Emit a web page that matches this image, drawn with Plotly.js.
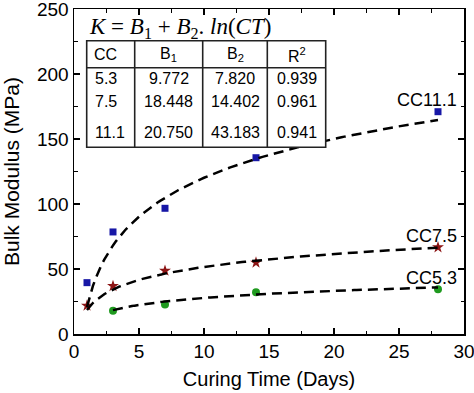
<!DOCTYPE html>
<html>
<head>
<meta charset="utf-8">
<script src="https://cdn.plot.ly/plotly-3.0.1.min.js"></script>
<style>
  html, body { margin: 0; padding: 0; background: #fff; }
  #chart { width: 474px; height: 393px; }
</style>
</head>
<body>
<div id="chart"></div>
<script>
// Measured bulk modulus (MPa) against curing time (days) for three cement contents
const days11 = [1, 3, 7, 14, 28];
const k11 = [39.5, 78.5, 96.7, 135.6, 171.0];
const days75 = [1, 3, 7, 14, 28];
const k75 = [21.8, 36.9, 48.7, 54.9, 66.7];
const days53 = [3, 7, 14, 28];
const k53 = [17.9, 22.6, 32.1, 34.4];

// Logarithmic fit K = B1 + B2 ln(CT) for each cement content
const fitCC = ['5.3', '7.5', '11.1'];
const fitB1 = [9.772, 18.448, 20.750];
const fitB2 = [7.820, 14.402, 43.183];
const fitR2 = [0.939, 0.961, 0.941];
const fitStart = [3, 1, 1];
const fitEnd = 28;

const seriesLabels = ['CC11.1', 'CC7.5', 'CC5.3'];

function fitCurve(i) {
  const xs = [], ys = [];
  const n = 120;
  for (let j = 0; j <= n; j++) {
    const t = fitStart[i] + (fitEnd - fitStart[i]) * j / n;
    xs.push(t);
    ys.push(fitB1[i] + fitB2[i] * Math.log(t));
  }
  return { x: xs, y: ys };
}

const traces = [
  { x: days11, y: k11, mode: 'markers', type: 'scatter',
    marker: { symbol: 'square', size: 7, color: '#1717a6' } },
  { x: days75, y: k75, mode: 'markers', type: 'scatter',
    marker: { symbol: 'star', size: 9, color: '#8c1414' } },
  { x: days53, y: k53, mode: 'markers', type: 'scatter',
    marker: { symbol: 'circle', size: 8, color: '#1f9a1f' } }
];
[2, 1, 0].forEach(i => {
  const c = fitCurve(i);
  traces.push({ x: c.x, y: c.y, mode: 'lines', type: 'scatter',
    line: { color: '#000', width: 2.5, dash: '10px,6px' } });
});

// pixel helpers for the inset table (plot area spans 74..464 x 9..334)
const px = v => (v - 74) / 390;
const py = v => (334 - v) / 325;

const font = 'Liberation Sans, Arial, sans-serif';
const annotations = [];
const shapes = [];

// series labels beside the last points
const labelY = [180, 75.6, 42.8];
seriesLabels.forEach((s, i) => {
  annotations.push({ xref: 'x', yref: 'y', x: 29.6, y: labelY[i], text: s,
    showarrow: false, xanchor: 'right', yanchor: 'middle',
    font: { family: font, size: 18, color: '#000' } });
});

// equation heading
annotations.push({ xref: 'paper', yref: 'paper', x: px(87), y: py(28),
  text: '<i>K</i> = <i>B</i><sub>1</sub> + <i>B</i><sub>2</sub>. <i>ln</i>(<i>CT</i>)',
  showarrow: false, xanchor: 'left', yanchor: 'middle',
  font: { family: 'Liberation Serif, DejaVu Serif, serif', size: 23, color: '#000' } });

// table frame
const tL = 86.7, tR = 325.7, tT = 40.7, tH = 67.7, tB = 147.3;
const colX = [134.7, 202.7, 267.3];
const lineStyle = { color: '#222', width: 1.6 };
shapes.push({ type: 'rect', xref: 'paper', yref: 'paper',
  x0: px(tL), x1: px(tR), y0: py(tB), y1: py(tT), line: lineStyle, fillcolor: '#fff', layer: 'above' });
shapes.push({ type: 'line', xref: 'paper', yref: 'paper',
  x0: px(tL), x1: px(tR), y0: py(tH), y1: py(tH), line: lineStyle, layer: 'above' });
colX.forEach(cx => shapes.push({ type: 'line', xref: 'paper', yref: 'paper',
  x0: px(cx), x1: px(cx), y0: py(tB), y1: py(tT), line: lineStyle, layer: 'above' }));

// table text
const headers = ['CC', 'B<sub>1</sub>', 'B<sub>2</sub>', 'R<sup>2</sup>'];
const colCenters = [92, 168.7, 235, 296.5];
const headY = 54.5;
const rowY = [78, 101.5, 132];
function cell(text, cx, cy, left) {
  annotations.push({ xref: 'paper', yref: 'paper', x: px(cx), y: py(cy), text: text,
    showarrow: false, xanchor: left ? 'left' : 'center', yanchor: 'middle',
    font: { family: font, size: 16, color: '#000' } });
}
headers.forEach((h, c) => cell(h, colCenters[c], headY, c === 0));
fitCC.forEach((cc, r) => {
  cell(cc, 93, rowY[r], true);
  cell(fitB1[r].toFixed(3), colCenters[1], rowY[r]);
  cell(fitB2[r].toFixed(3), colCenters[2], rowY[r]);
  cell(fitR2[r].toFixed(3), colCenters[3], rowY[r]);
});

const axisCommon = {
  showline: true, linecolor: '#000', linewidth: 1.5, mirror: 'allticks',
  ticks: 'inside', ticklen: 6, tickwidth: 1.3, tickcolor: '#000',
  showgrid: false, zeroline: false, ticklabeloverflow: 'allow',
  tickfont: { family: font, size: 19, color: '#000' }
};

const layout = {
  width: 474, height: 393,
  margin: { l: 74, r: 10, t: 9, b: 59 },
  paper_bgcolor: '#fff', plot_bgcolor: '#fff',
  showlegend: false,
  xaxis: Object.assign({}, axisCommon, {
    range: [0, 30], dtick: 5, tick0: 0,
    minor: { ticks: 'inside', dtick: 2.5, ticklen: 3.5, tickwidth: 1.2, tickcolor: '#000' },
    title: { text: 'Curing Time (Days)', font: { family: font, size: 20, color: '#000' }, standoff: 10 }
  }),
  yaxis: Object.assign({}, axisCommon, {
    range: [0, 250], dtick: 50, tick0: 0,
    minor: { ticks: 'inside', dtick: 25, ticklen: 3.5, tickwidth: 1.2, tickcolor: '#000' },
    title: { text: 'Bulk Modulus (MPa)', font: { family: font, size: 21, color: '#000' }, standoff: 12 }
  }),
  annotations: annotations,
  shapes: shapes
};

Plotly.newPlot('chart', traces, layout, { staticPlot: true, displayModeBar: false });
</script>
</body>
</html>
